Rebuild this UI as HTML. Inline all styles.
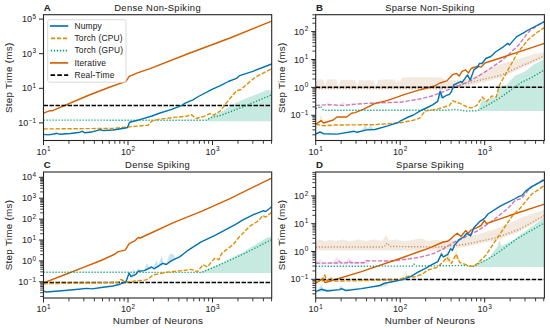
<!DOCTYPE html>
<html><head><meta charset="utf-8"><style>
html,body{margin:0;padding:0;background:#fff;width:550px;height:328px;overflow:hidden}
svg{display:block}
text{font-family:"Liberation Sans", sans-serif;fill:#262626;stroke:#262626;stroke-width:0.05px}
.tk{font-size:9px}
.sup{font-size:6.4px}
.ti{font-size:9.4px;letter-spacing:0.35px}
.lb{font-size:9.8px;letter-spacing:0.3px}
.lg{font-size:8.4px;letter-spacing:0.22px}
.pl{font-size:9.6px;font-weight:bold;stroke-width:0.1px}
</style></head><body>
<svg width="550" height="328" viewBox="0 0 550 328">
<rect width="550" height="328" fill="#fff"/>
<defs>
<clipPath id="clipA"><rect x="43.5" y="14.7" width="228.20" height="125.80"/></clipPath>
<clipPath id="clipB"><rect x="315.7" y="14.7" width="228.70" height="125.80"/></clipPath>
<clipPath id="clipC"><rect x="43.5" y="172.0" width="228.20" height="126.00"/></clipPath>
<clipPath id="clipD"><rect x="315.7" y="172.0" width="228.70" height="126.00"/></clipPath>
</defs>
<g clip-path="url(#clipA)">
<polygon points="205.9,120.4 212.0,116.0 220.4,112.5 233.4,104.0 246.3,98.3 259.2,93.3 267.0,89.7 271.7,90.5 271.7,121.3 205.9,121.3" fill="#029e73" fill-opacity="0.22" stroke="none"/>
<polyline points="43.5,113.2 50.0,110.6 52.0,110.8 89.3,95.0 110.0,87.0 124.6,81.8 126.5,80.6 129.2,76.3 137.5,72.8 150.0,68.7 188.6,53.5 230.0,38.0 271.7,21.2" fill="none" stroke="#d55e00" stroke-width="1.4"  stroke-linejoin="round"/>
<polyline points="43.5,105.6 271.7,105.6" fill="none" stroke="#000000" stroke-width="1.5" stroke-dasharray="4.5 1.5" stroke-linejoin="round"/>
<polyline points="43.5,120.1 205.5,120.3 212.0,117.2 220.0,115.7 242.6,107.0 271.7,94.8" fill="none" stroke="#029e73" stroke-width="1.4" stroke-dasharray="1.2 1.8" stroke-linejoin="round"/>
<polyline points="43.5,128.9 93.0,128.6 113.0,128.4 125.0,127.2 147.9,125.2 149.5,123.5 152.0,121.0 160.0,119.0 174.3,117.4 186.3,116.3 191.3,114.6 196.2,118.5 203.9,116.3 210.4,113.5 213.7,115.2 220.2,111.1 226.3,102.9 236.5,90.7 240.6,89.7 254.9,77.4 271.7,68.6" fill="none" stroke="#de8f05" stroke-width="1.4" stroke-dasharray="4.3 1.7" stroke-linejoin="round"/>
<polyline points="43.5,134.4 48.5,134.9 54.0,134.0 56.7,133.3 59.5,134.2 70.4,133.5 80.0,132.2 82.3,131.3 85.0,132.8 93.0,131.7 100.5,129.6 103.0,130.6 113.0,130.0 125.4,128.0 127.5,127.5 129.6,122.3 138.0,120.2 152.0,116.0 160.0,113.0 171.0,109.7 181.9,105.3 185.2,103.1 192.9,99.8 198.4,96.5 212.0,89.3 220.4,85.6 228.3,81.5 236.5,78.4 239.6,75.6 252.8,71.3 271.7,64.0" fill="none" stroke="#0173b2" stroke-width="1.4"  stroke-linejoin="round"/>
</g>
<g clip-path="url(#clipB)">
<polygon points="315.7,84.0 317.5,79.5 323.0,79.5 325.0,86.0 327.0,79.5 336.5,79.3 338.5,86.5 340.5,79.8 355.0,79.8 357.0,86.5 359.0,80.2 373.6,80.4 375.7,86.5 378.0,79.8 390.0,79.5 395.0,79.5 396.5,84.0 398.0,79.5 400.0,83.0 401.0,79.0 402.8,77.5 420.0,77.0 441.0,77.5 446.0,80.7 466.0,79.0 480.3,74.0 494.8,66.0 514.7,59.9 534.5,54.0 544.4,52.0 544.4,58.0 521.8,68.0 502.0,77.5 480.3,83.0 466.6,86.5 445.0,89.0 315.7,89.0" fill="#ca9161" fill-opacity="0.2" stroke="none"/>
<polygon points="478.0,110.5 482.1,99.0 486.4,102.0 491.9,97.0 496.3,98.0 498.4,90.0 500.8,85.7 506.7,85.0 514.7,75.8 524.6,71.8 534.5,63.9 542.5,60.0 544.4,59.0 544.4,111.0 478.0,111.0" fill="#029e73" fill-opacity="0.22" stroke="none"/>
<polygon points="362.0,129.5 365.0,125.5 368.0,128.5 370.0,125.5 373.0,128.0 373.0,130.0 362.0,131.0" fill="#0173b2" fill-opacity="0.2" stroke="none"/>
<polygon points="438.0,100.0 440.5,85.0 443.0,97.0" fill="#0173b2" fill-opacity="0.2" stroke="none"/>
<polygon points="325.0,104.5 328.0,102.0 331.0,104.5 340.0,104.5 343.0,101.5 346.0,104.5 375.0,103.0 378.0,101.0 381.0,103.0" fill="#cc78bc" fill-opacity="0.2" stroke="none"/>
<polygon points="319.0,122.0 321.1,114.0 323.5,122.5" fill="#de8f05" fill-opacity="0.2" stroke="none"/>
<polyline points="315.7,88.5 445.0,88.5 466.6,83.6 480.3,80.0 502.0,74.9 521.8,65.8 541.9,57.0 544.4,56.0" fill="none" stroke="#ca9161" stroke-width="1.4" stroke-dasharray="1.2 1.8" stroke-linejoin="round"/>
<polyline points="315.7,105.4 329.0,104.7 343.0,105.4 357.0,104.0 375.0,102.9 400.6,102.2 419.8,99.0 432.6,95.8 439.0,93.3 453.7,87.8 462.0,84.5 471.1,80.4 480.3,74.9 489.4,69.0 502.0,60.3 506.4,56.6 518.7,45.0 526.1,35.1 530.5,30.0 544.4,21.5" fill="none" stroke="#cc78bc" stroke-width="1.4" stroke-dasharray="4.3 1.7" stroke-linejoin="round"/>
<polyline points="315.7,124.3 321.1,120.6 323.5,123.0 333.3,120.0 337.0,117.0 346.7,117.0 351.6,113.3 355.0,112.6 363.2,109.4 374.6,103.6 387.7,100.4 404.1,94.6 420.5,89.7 433.6,86.3 440.0,83.0 446.9,80.9 452.4,74.7 456.5,73.4 459.2,76.1 462.0,71.3 465.7,69.9 468.4,73.1 471.1,68.5 477.6,66.2 481.2,67.1 484.9,63.0 502.0,57.5 544.4,43.4" fill="none" stroke="#d55e00" stroke-width="1.4"  stroke-linejoin="round"/>
<polyline points="315.7,87.2 544.4,87.2" fill="none" stroke="#000000" stroke-width="1.5" stroke-dasharray="4.5 1.5" stroke-linejoin="round"/>
<polyline points="315.7,108.4 318.0,108.0 320.5,106.2 323.0,109.6 326.0,110.2 445.0,110.3 455.9,109.5 466.8,111.0 477.7,110.6 488.6,104.6 499.5,98.1 505.0,94.3 521.8,82.1 531.2,77.8 541.9,71.3 544.4,70.0" fill="none" stroke="#029e73" stroke-width="1.4" stroke-dasharray="1.2 1.8" stroke-linejoin="round"/>
<polyline points="315.7,124.3 323.4,125.7 336.0,125.0 375.0,124.7 400.6,122.7 413.4,120.2 419.8,118.2 424.9,111.2 432.6,109.9 439.0,108.6 445.0,106.8 449.4,105.7 452.6,100.8 459.2,103.0 467.9,107.4 471.2,107.9 476.6,105.7 482.1,97.0 486.4,101.4 491.9,95.9 496.3,97.0 498.4,88.3 499.5,85.0 506.4,72.8 517.2,53.5 521.0,48.5 528.2,39.6 535.9,33.2 544.4,27.5" fill="none" stroke="#de8f05" stroke-width="1.4" stroke-dasharray="4.3 1.7" stroke-linejoin="round"/>
<polyline points="315.7,134.1 319.9,132.0 323.4,133.7 337.4,134.1 354.2,131.3 357.0,132.3 366.8,129.9 375.0,129.5 387.8,125.9 398.0,122.7 400.6,120.8 408.3,117.0 413.4,115.0 419.8,111.2 426.2,108.0 432.6,104.8 437.7,101.4 440.1,91.5 442.4,97.8 446.0,95.6 449.4,94.3 451.5,91.5 453.7,85.0 460.6,81.6 462.0,82.7 467.5,74.9 470.2,80.0 473.9,69.9 477.6,67.1 479.4,63.5 482.1,63.5 485.8,58.5 490.8,56.5 495.5,52.0 503.3,46.8 507.7,43.4 509.5,44.9 516.7,36.6 523.1,33.2 528.2,30.0 544.4,21.6" fill="none" stroke="#0173b2" stroke-width="1.4"  stroke-linejoin="round"/>
</g>
<g clip-path="url(#clipC)">
<polygon points="198.7,272.4 221.7,263.0 243.3,252.0 250.5,247.4 267.7,237.3 271.7,236.6 271.7,272.9 198.7,272.9" fill="#029e73" fill-opacity="0.22" stroke="none"/>
<polygon points="129.1,274.0 131.5,275.0 133.4,268.8 135.5,274.0 136.5,273.5 138.3,267.6 140.5,271.0 144.0,270.8 146.8,262.7 150.0,268.0 153.0,267.5 156.6,260.2 158.5,265.5 161.5,256.0 164.0,263.5 167.0,262.5 169.0,255.0 171.2,253.5 174.0,255.0 176.0,258.5 171.2,261.2 166.3,265.0 162.7,263.8 154.1,269.3 151.7,267.5 144.4,271.1 138.3,271.7 135.9,274.8 131.0,277.2" fill="#0173b2" fill-opacity="0.2" stroke="none"/>
<polyline points="43.5,282.9 64.0,275.0 82.2,267.9 101.0,260.5 115.1,254.0 118.1,251.6 125.2,250.1 129.2,243.6 135.2,240.6 138.2,237.5 140.2,238.0 150.0,233.5 174.0,222.4 202.0,211.2 230.0,198.6 271.7,178.1" fill="none" stroke="#d55e00" stroke-width="1.4"  stroke-linejoin="round"/>
<polyline points="43.5,282.5 271.7,282.5" fill="none" stroke="#000000" stroke-width="1.5" stroke-dasharray="4.5 1.5" stroke-linejoin="round"/>
<polyline points="43.5,272.2 198.0,272.4 201.6,272.4 221.7,264.0 243.3,254.0 270.6,240.2 271.7,239.6" fill="none" stroke="#029e73" stroke-width="1.4" stroke-dasharray="1.2 1.8" stroke-linejoin="round"/>
<polyline points="43.5,283.7 118.0,282.5 120.8,279.5 126.4,282.0 146.0,279.9 148.8,278.5 153.0,275.0 167.0,272.2 181.0,270.8 190.8,269.4 195.0,270.5 197.3,272.0 203.0,264.8 207.4,266.9 214.6,258.3 218.9,259.7 221.5,253.5 233.2,244.5 237.0,239.5 249.3,226.6 259.0,220.4 262.4,215.6 265.8,217.0 271.7,212.2" fill="none" stroke="#de8f05" stroke-width="1.4" stroke-dasharray="4.3 1.7" stroke-linejoin="round"/>
<polyline points="43.5,291.1 46.3,292.0 64.8,290.5 75.7,289.5 86.6,288.4 92.1,288.9 103.0,287.2 113.0,286.0 120.0,284.2 126.1,281.6 129.1,273.0 131.0,276.7 135.9,274.3 138.3,271.2 144.4,270.6 151.7,267.0 154.1,268.8 162.7,263.3 166.3,264.5 171.2,260.9 180.0,256.6 187.5,250.7 201.2,241.8 215.0,235.3 235.6,224.3 242.5,220.1 253.5,214.6 263.1,210.8 265.8,211.5 271.7,206.7" fill="none" stroke="#0173b2" stroke-width="1.4"  stroke-linejoin="round"/>
</g>
<g clip-path="url(#clipD)">
<polygon points="315.7,241.0 320.0,239.5 325.0,241.5 330.0,239.5 336.0,241.0 342.0,239.5 350.0,241.5 358.0,239.5 366.0,241.0 374.0,239.5 382.0,241.0 386.4,235.0 389.0,240.5 396.0,239.5 404.0,241.5 412.0,240.0 419.0,238.5 422.0,238.5 428.0,241.0 436.0,240.0 445.0,241.0 453.0,240.5 465.0,238.0 497.5,228.6 525.0,216.2 544.4,209.5 544.4,218.0 520.0,231.5 497.0,240.0 465.0,247.0 440.0,250.5 315.7,250.5" fill="#ca9161" fill-opacity="0.2" stroke="none"/>
<polygon points="473.7,266.2 480.0,263.0 489.7,257.0 497.5,246.4 499.5,240.0 501.5,246.0 514.0,239.6 525.0,231.3 544.4,217.6 544.4,267.0 473.7,267.0" fill="#029e73" fill-opacity="0.22" stroke="none"/>
<polygon points="318.0,290.0 321.0,284.8 324.0,289.0 338.0,289.5 341.0,285.5 344.0,289.5 380.0,286.0 383.0,282.0 387.0,284.0 387.0,286.0 318.0,292.0" fill="#0173b2" fill-opacity="0.2" stroke="none"/>
<polygon points="315.7,262.0 320.0,259.5 323.0,262.0 333.0,261.5 336.6,257.0 340.0,261.5 345.0,261.5 349.0,257.5 353.0,261.5 363.0,261.5 366.0,258.5 369.0,261.0 369.0,264.5 315.7,264.5" fill="#cc78bc" fill-opacity="0.2" stroke="none"/>
<polygon points="321.0,281.0 324.3,273.2 327.0,281.0" fill="#de8f05" fill-opacity="0.2" stroke="none"/>
<polygon points="330.0,280.5 332.0,275.5 334.0,281.0" fill="#de8f05" fill-opacity="0.2" stroke="none"/>
<polygon points="403.0,279.0 405.4,270.0 408.0,278.0" fill="#de8f05" fill-opacity="0.2" stroke="none"/>
<polygon points="443.0,262.0 447.0,250.0 452.0,262.0" fill="#de8f05" fill-opacity="0.2" stroke="none"/>
<polygon points="454.0,258.0 456.0,248.0 460.0,262.0" fill="#de8f05" fill-opacity="0.2" stroke="none"/>
<polyline points="315.7,247.0 384.0,247.0 387.0,243.0 390.0,246.5 440.0,247.0 465.0,244.5 497.0,237.5 520.0,229.0 544.4,215.5" fill="none" stroke="#ca9161" stroke-width="1.4" stroke-dasharray="1.2 1.8" stroke-linejoin="round"/>
<polyline points="315.7,263.2 337.0,263.0 339.0,261.0 341.0,263.0 347.0,262.8 349.0,261.0 351.0,262.8 364.0,262.8 366.8,260.8 392.0,261.0 404.0,259.5 418.0,257.5 425.0,256.0 434.1,253.4 443.3,248.8 453.7,242.4 463.7,237.9 470.1,234.2 477.4,231.0 492.6,220.7 507.8,208.5 515.4,200.2 521.5,198.6 530.7,187.2 544.4,179.0" fill="none" stroke="#cc78bc" stroke-width="1.4" stroke-dasharray="4.3 1.7" stroke-linejoin="round"/>
<polyline points="315.7,283.2 322.7,278.6 325.0,282.5 330.5,281.0 361.4,271.6 400.0,258.5 418.0,252.0 425.0,249.7 432.0,246.9 443.2,242.0 447.4,241.3 450.0,239.7 453.7,236.0 457.3,233.3 461.0,236.5 465.6,230.6 468.3,233.3 471.0,230.1 476.5,227.8 481.1,225.5 484.3,220.5 486.6,223.7 490.0,222.3 511.2,215.0 544.4,204.2" fill="none" stroke="#d55e00" stroke-width="1.4"  stroke-linejoin="round"/>
<polyline points="315.7,279.4 544.4,279.4" fill="none" stroke="#000000" stroke-width="1.5" stroke-dasharray="4.5 1.5" stroke-linejoin="round"/>
<polyline points="315.7,266.3 412.0,266.1 413.8,264.0 415.5,266.1 465.0,265.5 473.7,266.2 479.5,263.3 486.8,259.6 495.5,254.5 505.0,247.5 515.9,239.5 542.1,224.2 544.4,223.0" fill="none" stroke="#029e73" stroke-width="1.4" stroke-dasharray="1.2 1.8" stroke-linejoin="round"/>
<polyline points="315.7,281.2 322.0,281.2 324.8,275.0 327.0,281.2 331.0,278.0 333.0,281.2 390.0,280.0 398.4,280.5 404.0,277.7 408.2,276.3 413.8,277.0 422.2,274.2 427.8,270.0 437.6,267.2 443.2,261.6 446.9,257.5 451.5,263.4 456.1,254.3 459.7,262.5 465.2,264.3 469.4,266.2 473.7,266.2 478.2,262.9 486.0,255.0 498.0,237.0 506.0,225.0 513.0,215.0 520.3,208.0 531.9,194.0 544.4,185.5" fill="none" stroke="#de8f05" stroke-width="1.4" stroke-dasharray="4.3 1.7" stroke-linejoin="round"/>
<polyline points="315.7,291.7 321.2,289.3 327.4,291.0 339.7,289.6 341.3,288.6 345.9,290.5 361.4,288.6 380.0,285.5 384.6,283.2 392.3,281.7 400.0,280.1 404.0,279.1 411.0,276.3 418.0,272.1 425.0,268.6 430.5,265.3 437.8,261.6 441.5,253.8 443.3,257.0 447.9,254.3 450.6,248.8 452.4,250.6 454.6,245.0 459.1,239.7 463.7,237.0 466.5,233.3 470.6,236.0 473.8,227.8 479.3,221.9 484.8,218.2 488.0,214.0 500.2,206.2 515.4,198.5 519.2,196.4 521.8,195.6 525.6,191.1 532.0,186.6 544.4,179.8" fill="none" stroke="#0173b2" stroke-width="1.4"  stroke-linejoin="round"/>
</g>
<line x1="43.50" y1="140.50" x2="43.50" y2="145.00" stroke="#262626" stroke-width="1.0"/>
<line x1="68.94" y1="140.50" x2="68.94" y2="143.80" stroke="#262626" stroke-width="0.9"/>
<line x1="83.82" y1="140.50" x2="83.82" y2="143.80" stroke="#262626" stroke-width="0.9"/>
<line x1="94.37" y1="140.50" x2="94.37" y2="143.80" stroke="#262626" stroke-width="0.9"/>
<line x1="102.56" y1="140.50" x2="102.56" y2="143.80" stroke="#262626" stroke-width="0.9"/>
<line x1="109.25" y1="140.50" x2="109.25" y2="143.80" stroke="#262626" stroke-width="0.9"/>
<line x1="114.91" y1="140.50" x2="114.91" y2="143.80" stroke="#262626" stroke-width="0.9"/>
<line x1="119.81" y1="140.50" x2="119.81" y2="143.80" stroke="#262626" stroke-width="0.9"/>
<line x1="124.13" y1="140.50" x2="124.13" y2="143.80" stroke="#262626" stroke-width="0.9"/>
<line x1="128.00" y1="140.50" x2="128.00" y2="145.00" stroke="#262626" stroke-width="1.0"/>
<line x1="153.44" y1="140.50" x2="153.44" y2="143.80" stroke="#262626" stroke-width="0.9"/>
<line x1="168.32" y1="140.50" x2="168.32" y2="143.80" stroke="#262626" stroke-width="0.9"/>
<line x1="178.87" y1="140.50" x2="178.87" y2="143.80" stroke="#262626" stroke-width="0.9"/>
<line x1="187.06" y1="140.50" x2="187.06" y2="143.80" stroke="#262626" stroke-width="0.9"/>
<line x1="193.75" y1="140.50" x2="193.75" y2="143.80" stroke="#262626" stroke-width="0.9"/>
<line x1="199.41" y1="140.50" x2="199.41" y2="143.80" stroke="#262626" stroke-width="0.9"/>
<line x1="204.31" y1="140.50" x2="204.31" y2="143.80" stroke="#262626" stroke-width="0.9"/>
<line x1="208.63" y1="140.50" x2="208.63" y2="143.80" stroke="#262626" stroke-width="0.9"/>
<line x1="212.50" y1="140.50" x2="212.50" y2="145.00" stroke="#262626" stroke-width="1.0"/>
<line x1="237.94" y1="140.50" x2="237.94" y2="143.80" stroke="#262626" stroke-width="0.9"/>
<line x1="252.82" y1="140.50" x2="252.82" y2="143.80" stroke="#262626" stroke-width="0.9"/>
<line x1="263.37" y1="140.50" x2="263.37" y2="143.80" stroke="#262626" stroke-width="0.9"/>
<line x1="271.56" y1="140.50" x2="271.56" y2="143.80" stroke="#262626" stroke-width="0.9"/>
<text x="43.50" y="154.50" text-anchor="middle" class="tk">10<tspan class="sup" dx="0.6" dy="-3.4">1</tspan></text>
<text x="128.00" y="154.50" text-anchor="middle" class="tk">10<tspan class="sup" dx="0.6" dy="-3.4">2</tspan></text>
<text x="212.50" y="154.50" text-anchor="middle" class="tk">10<tspan class="sup" dx="0.6" dy="-3.4">3</tspan></text>
<line x1="39.00" y1="122.90" x2="43.50" y2="122.90" stroke="#262626" stroke-width="1.0"/>
<text x="36.10" y="126.00" text-anchor="end" class="tk">10<tspan class="sup" dx="0.6" dy="-3.4">−1</tspan></text>
<line x1="39.00" y1="88.30" x2="43.50" y2="88.30" stroke="#262626" stroke-width="1.0"/>
<text x="36.10" y="91.40" text-anchor="end" class="tk">10<tspan class="sup" dx="0.6" dy="-3.4">1</tspan></text>
<line x1="39.00" y1="53.70" x2="43.50" y2="53.70" stroke="#262626" stroke-width="1.0"/>
<text x="36.10" y="56.80" text-anchor="end" class="tk">10<tspan class="sup" dx="0.6" dy="-3.4">3</tspan></text>
<line x1="39.00" y1="19.10" x2="43.50" y2="19.10" stroke="#262626" stroke-width="1.0"/>
<text x="36.10" y="22.20" text-anchor="end" class="tk">10<tspan class="sup" dx="0.6" dy="-3.4">5</tspan></text>
<rect x="43.50" y="14.70" width="228.20" height="125.80" fill="none" stroke="#262626" stroke-width="1.1"/>
<text x="157.60" y="10.50" text-anchor="middle" class="ti">Dense Non-Spiking</text>
<text x="43.80" y="10.70" class="pl">A</text>
<line x1="315.70" y1="140.50" x2="315.70" y2="145.00" stroke="#262626" stroke-width="1.0"/>
<line x1="341.14" y1="140.50" x2="341.14" y2="143.80" stroke="#262626" stroke-width="0.9"/>
<line x1="356.02" y1="140.50" x2="356.02" y2="143.80" stroke="#262626" stroke-width="0.9"/>
<line x1="366.57" y1="140.50" x2="366.57" y2="143.80" stroke="#262626" stroke-width="0.9"/>
<line x1="374.76" y1="140.50" x2="374.76" y2="143.80" stroke="#262626" stroke-width="0.9"/>
<line x1="381.45" y1="140.50" x2="381.45" y2="143.80" stroke="#262626" stroke-width="0.9"/>
<line x1="387.11" y1="140.50" x2="387.11" y2="143.80" stroke="#262626" stroke-width="0.9"/>
<line x1="392.01" y1="140.50" x2="392.01" y2="143.80" stroke="#262626" stroke-width="0.9"/>
<line x1="396.33" y1="140.50" x2="396.33" y2="143.80" stroke="#262626" stroke-width="0.9"/>
<line x1="400.20" y1="140.50" x2="400.20" y2="145.00" stroke="#262626" stroke-width="1.0"/>
<line x1="425.64" y1="140.50" x2="425.64" y2="143.80" stroke="#262626" stroke-width="0.9"/>
<line x1="440.52" y1="140.50" x2="440.52" y2="143.80" stroke="#262626" stroke-width="0.9"/>
<line x1="451.07" y1="140.50" x2="451.07" y2="143.80" stroke="#262626" stroke-width="0.9"/>
<line x1="459.26" y1="140.50" x2="459.26" y2="143.80" stroke="#262626" stroke-width="0.9"/>
<line x1="465.95" y1="140.50" x2="465.95" y2="143.80" stroke="#262626" stroke-width="0.9"/>
<line x1="471.61" y1="140.50" x2="471.61" y2="143.80" stroke="#262626" stroke-width="0.9"/>
<line x1="476.51" y1="140.50" x2="476.51" y2="143.80" stroke="#262626" stroke-width="0.9"/>
<line x1="480.83" y1="140.50" x2="480.83" y2="143.80" stroke="#262626" stroke-width="0.9"/>
<line x1="484.70" y1="140.50" x2="484.70" y2="145.00" stroke="#262626" stroke-width="1.0"/>
<line x1="510.14" y1="140.50" x2="510.14" y2="143.80" stroke="#262626" stroke-width="0.9"/>
<line x1="525.02" y1="140.50" x2="525.02" y2="143.80" stroke="#262626" stroke-width="0.9"/>
<line x1="535.57" y1="140.50" x2="535.57" y2="143.80" stroke="#262626" stroke-width="0.9"/>
<line x1="543.76" y1="140.50" x2="543.76" y2="143.80" stroke="#262626" stroke-width="0.9"/>
<text x="315.70" y="154.50" text-anchor="middle" class="tk">10<tspan class="sup" dx="0.6" dy="-3.4">1</tspan></text>
<text x="400.20" y="154.50" text-anchor="middle" class="tk">10<tspan class="sup" dx="0.6" dy="-3.4">2</tspan></text>
<text x="484.70" y="154.50" text-anchor="middle" class="tk">10<tspan class="sup" dx="0.6" dy="-3.4">3</tspan></text>
<line x1="312.40" y1="134.80" x2="315.70" y2="134.80" stroke="#262626" stroke-width="0.9"/>
<line x1="312.40" y1="129.89" x2="315.70" y2="129.89" stroke="#262626" stroke-width="0.9"/>
<line x1="312.40" y1="126.40" x2="315.70" y2="126.40" stroke="#262626" stroke-width="0.9"/>
<line x1="312.40" y1="123.70" x2="315.70" y2="123.70" stroke="#262626" stroke-width="0.9"/>
<line x1="312.40" y1="121.49" x2="315.70" y2="121.49" stroke="#262626" stroke-width="0.9"/>
<line x1="312.40" y1="119.62" x2="315.70" y2="119.62" stroke="#262626" stroke-width="0.9"/>
<line x1="312.40" y1="118.00" x2="315.70" y2="118.00" stroke="#262626" stroke-width="0.9"/>
<line x1="312.40" y1="116.58" x2="315.70" y2="116.58" stroke="#262626" stroke-width="0.9"/>
<line x1="311.20" y1="115.30" x2="315.70" y2="115.30" stroke="#262626" stroke-width="1.0"/>
<text x="308.30" y="118.40" text-anchor="end" class="tk">10<tspan class="sup" dx="0.6" dy="-3.4">−1</tspan></text>
<line x1="312.40" y1="106.90" x2="315.70" y2="106.90" stroke="#262626" stroke-width="0.9"/>
<line x1="312.40" y1="101.99" x2="315.70" y2="101.99" stroke="#262626" stroke-width="0.9"/>
<line x1="312.40" y1="98.50" x2="315.70" y2="98.50" stroke="#262626" stroke-width="0.9"/>
<line x1="312.40" y1="95.80" x2="315.70" y2="95.80" stroke="#262626" stroke-width="0.9"/>
<line x1="312.40" y1="93.59" x2="315.70" y2="93.59" stroke="#262626" stroke-width="0.9"/>
<line x1="312.40" y1="91.72" x2="315.70" y2="91.72" stroke="#262626" stroke-width="0.9"/>
<line x1="312.40" y1="90.10" x2="315.70" y2="90.10" stroke="#262626" stroke-width="0.9"/>
<line x1="312.40" y1="88.68" x2="315.70" y2="88.68" stroke="#262626" stroke-width="0.9"/>
<line x1="311.20" y1="87.40" x2="315.70" y2="87.40" stroke="#262626" stroke-width="1.0"/>
<text x="308.30" y="90.50" text-anchor="end" class="tk">10<tspan class="sup" dx="0.6" dy="-3.4">0</tspan></text>
<line x1="312.40" y1="79.00" x2="315.70" y2="79.00" stroke="#262626" stroke-width="0.9"/>
<line x1="312.40" y1="74.09" x2="315.70" y2="74.09" stroke="#262626" stroke-width="0.9"/>
<line x1="312.40" y1="70.60" x2="315.70" y2="70.60" stroke="#262626" stroke-width="0.9"/>
<line x1="312.40" y1="67.90" x2="315.70" y2="67.90" stroke="#262626" stroke-width="0.9"/>
<line x1="312.40" y1="65.69" x2="315.70" y2="65.69" stroke="#262626" stroke-width="0.9"/>
<line x1="312.40" y1="63.82" x2="315.70" y2="63.82" stroke="#262626" stroke-width="0.9"/>
<line x1="312.40" y1="62.20" x2="315.70" y2="62.20" stroke="#262626" stroke-width="0.9"/>
<line x1="312.40" y1="60.78" x2="315.70" y2="60.78" stroke="#262626" stroke-width="0.9"/>
<line x1="311.20" y1="59.50" x2="315.70" y2="59.50" stroke="#262626" stroke-width="1.0"/>
<text x="308.30" y="62.60" text-anchor="end" class="tk">10<tspan class="sup" dx="0.6" dy="-3.4">1</tspan></text>
<line x1="312.40" y1="51.10" x2="315.70" y2="51.10" stroke="#262626" stroke-width="0.9"/>
<line x1="312.40" y1="46.19" x2="315.70" y2="46.19" stroke="#262626" stroke-width="0.9"/>
<line x1="312.40" y1="42.70" x2="315.70" y2="42.70" stroke="#262626" stroke-width="0.9"/>
<line x1="312.40" y1="40.00" x2="315.70" y2="40.00" stroke="#262626" stroke-width="0.9"/>
<line x1="312.40" y1="37.79" x2="315.70" y2="37.79" stroke="#262626" stroke-width="0.9"/>
<line x1="312.40" y1="35.92" x2="315.70" y2="35.92" stroke="#262626" stroke-width="0.9"/>
<line x1="312.40" y1="34.30" x2="315.70" y2="34.30" stroke="#262626" stroke-width="0.9"/>
<line x1="312.40" y1="32.88" x2="315.70" y2="32.88" stroke="#262626" stroke-width="0.9"/>
<line x1="311.20" y1="31.60" x2="315.70" y2="31.60" stroke="#262626" stroke-width="1.0"/>
<text x="308.30" y="34.70" text-anchor="end" class="tk">10<tspan class="sup" dx="0.6" dy="-3.4">2</tspan></text>
<line x1="312.40" y1="23.20" x2="315.70" y2="23.20" stroke="#262626" stroke-width="0.9"/>
<line x1="312.40" y1="18.29" x2="315.70" y2="18.29" stroke="#262626" stroke-width="0.9"/>
<line x1="312.40" y1="14.80" x2="315.70" y2="14.80" stroke="#262626" stroke-width="0.9"/>
<rect x="315.70" y="14.70" width="228.70" height="125.80" fill="none" stroke="#262626" stroke-width="1.1"/>
<text x="430.05" y="10.50" text-anchor="middle" class="ti">Sparse Non-Spiking</text>
<text x="316.00" y="10.70" class="pl">B</text>
<line x1="43.50" y1="298.00" x2="43.50" y2="302.50" stroke="#262626" stroke-width="1.0"/>
<line x1="68.94" y1="298.00" x2="68.94" y2="301.30" stroke="#262626" stroke-width="0.9"/>
<line x1="83.82" y1="298.00" x2="83.82" y2="301.30" stroke="#262626" stroke-width="0.9"/>
<line x1="94.37" y1="298.00" x2="94.37" y2="301.30" stroke="#262626" stroke-width="0.9"/>
<line x1="102.56" y1="298.00" x2="102.56" y2="301.30" stroke="#262626" stroke-width="0.9"/>
<line x1="109.25" y1="298.00" x2="109.25" y2="301.30" stroke="#262626" stroke-width="0.9"/>
<line x1="114.91" y1="298.00" x2="114.91" y2="301.30" stroke="#262626" stroke-width="0.9"/>
<line x1="119.81" y1="298.00" x2="119.81" y2="301.30" stroke="#262626" stroke-width="0.9"/>
<line x1="124.13" y1="298.00" x2="124.13" y2="301.30" stroke="#262626" stroke-width="0.9"/>
<line x1="128.00" y1="298.00" x2="128.00" y2="302.50" stroke="#262626" stroke-width="1.0"/>
<line x1="153.44" y1="298.00" x2="153.44" y2="301.30" stroke="#262626" stroke-width="0.9"/>
<line x1="168.32" y1="298.00" x2="168.32" y2="301.30" stroke="#262626" stroke-width="0.9"/>
<line x1="178.87" y1="298.00" x2="178.87" y2="301.30" stroke="#262626" stroke-width="0.9"/>
<line x1="187.06" y1="298.00" x2="187.06" y2="301.30" stroke="#262626" stroke-width="0.9"/>
<line x1="193.75" y1="298.00" x2="193.75" y2="301.30" stroke="#262626" stroke-width="0.9"/>
<line x1="199.41" y1="298.00" x2="199.41" y2="301.30" stroke="#262626" stroke-width="0.9"/>
<line x1="204.31" y1="298.00" x2="204.31" y2="301.30" stroke="#262626" stroke-width="0.9"/>
<line x1="208.63" y1="298.00" x2="208.63" y2="301.30" stroke="#262626" stroke-width="0.9"/>
<line x1="212.50" y1="298.00" x2="212.50" y2="302.50" stroke="#262626" stroke-width="1.0"/>
<line x1="237.94" y1="298.00" x2="237.94" y2="301.30" stroke="#262626" stroke-width="0.9"/>
<line x1="252.82" y1="298.00" x2="252.82" y2="301.30" stroke="#262626" stroke-width="0.9"/>
<line x1="263.37" y1="298.00" x2="263.37" y2="301.30" stroke="#262626" stroke-width="0.9"/>
<line x1="271.56" y1="298.00" x2="271.56" y2="301.30" stroke="#262626" stroke-width="0.9"/>
<text x="43.50" y="312.00" text-anchor="middle" class="tk">10<tspan class="sup" dx="0.6" dy="-3.4">1</tspan></text>
<text x="128.00" y="312.00" text-anchor="middle" class="tk">10<tspan class="sup" dx="0.6" dy="-3.4">2</tspan></text>
<text x="212.50" y="312.00" text-anchor="middle" class="tk">10<tspan class="sup" dx="0.6" dy="-3.4">3</tspan></text>
<line x1="40.20" y1="296.41" x2="43.50" y2="296.41" stroke="#262626" stroke-width="0.9"/>
<line x1="40.20" y1="292.73" x2="43.50" y2="292.73" stroke="#262626" stroke-width="0.9"/>
<line x1="40.20" y1="290.12" x2="43.50" y2="290.12" stroke="#262626" stroke-width="0.9"/>
<line x1="40.20" y1="288.09" x2="43.50" y2="288.09" stroke="#262626" stroke-width="0.9"/>
<line x1="40.20" y1="286.44" x2="43.50" y2="286.44" stroke="#262626" stroke-width="0.9"/>
<line x1="40.20" y1="285.04" x2="43.50" y2="285.04" stroke="#262626" stroke-width="0.9"/>
<line x1="40.20" y1="283.83" x2="43.50" y2="283.83" stroke="#262626" stroke-width="0.9"/>
<line x1="40.20" y1="282.76" x2="43.50" y2="282.76" stroke="#262626" stroke-width="0.9"/>
<line x1="39.00" y1="281.80" x2="43.50" y2="281.80" stroke="#262626" stroke-width="1.0"/>
<text x="36.10" y="284.90" text-anchor="end" class="tk">10<tspan class="sup" dx="0.6" dy="-3.4">−1</tspan></text>
<line x1="40.20" y1="275.51" x2="43.50" y2="275.51" stroke="#262626" stroke-width="0.9"/>
<line x1="40.20" y1="271.83" x2="43.50" y2="271.83" stroke="#262626" stroke-width="0.9"/>
<line x1="40.20" y1="269.22" x2="43.50" y2="269.22" stroke="#262626" stroke-width="0.9"/>
<line x1="40.20" y1="267.19" x2="43.50" y2="267.19" stroke="#262626" stroke-width="0.9"/>
<line x1="40.20" y1="265.54" x2="43.50" y2="265.54" stroke="#262626" stroke-width="0.9"/>
<line x1="40.20" y1="264.14" x2="43.50" y2="264.14" stroke="#262626" stroke-width="0.9"/>
<line x1="40.20" y1="262.93" x2="43.50" y2="262.93" stroke="#262626" stroke-width="0.9"/>
<line x1="40.20" y1="261.86" x2="43.50" y2="261.86" stroke="#262626" stroke-width="0.9"/>
<line x1="39.00" y1="260.90" x2="43.50" y2="260.90" stroke="#262626" stroke-width="1.0"/>
<text x="36.10" y="264.00" text-anchor="end" class="tk">10<tspan class="sup" dx="0.6" dy="-3.4">0</tspan></text>
<line x1="40.20" y1="254.61" x2="43.50" y2="254.61" stroke="#262626" stroke-width="0.9"/>
<line x1="40.20" y1="250.93" x2="43.50" y2="250.93" stroke="#262626" stroke-width="0.9"/>
<line x1="40.20" y1="248.32" x2="43.50" y2="248.32" stroke="#262626" stroke-width="0.9"/>
<line x1="40.20" y1="246.29" x2="43.50" y2="246.29" stroke="#262626" stroke-width="0.9"/>
<line x1="40.20" y1="244.64" x2="43.50" y2="244.64" stroke="#262626" stroke-width="0.9"/>
<line x1="40.20" y1="243.24" x2="43.50" y2="243.24" stroke="#262626" stroke-width="0.9"/>
<line x1="40.20" y1="242.03" x2="43.50" y2="242.03" stroke="#262626" stroke-width="0.9"/>
<line x1="40.20" y1="240.96" x2="43.50" y2="240.96" stroke="#262626" stroke-width="0.9"/>
<line x1="39.00" y1="240.00" x2="43.50" y2="240.00" stroke="#262626" stroke-width="1.0"/>
<text x="36.10" y="243.10" text-anchor="end" class="tk">10<tspan class="sup" dx="0.6" dy="-3.4">1</tspan></text>
<line x1="40.20" y1="233.71" x2="43.50" y2="233.71" stroke="#262626" stroke-width="0.9"/>
<line x1="40.20" y1="230.03" x2="43.50" y2="230.03" stroke="#262626" stroke-width="0.9"/>
<line x1="40.20" y1="227.42" x2="43.50" y2="227.42" stroke="#262626" stroke-width="0.9"/>
<line x1="40.20" y1="225.39" x2="43.50" y2="225.39" stroke="#262626" stroke-width="0.9"/>
<line x1="40.20" y1="223.74" x2="43.50" y2="223.74" stroke="#262626" stroke-width="0.9"/>
<line x1="40.20" y1="222.34" x2="43.50" y2="222.34" stroke="#262626" stroke-width="0.9"/>
<line x1="40.20" y1="221.13" x2="43.50" y2="221.13" stroke="#262626" stroke-width="0.9"/>
<line x1="40.20" y1="220.06" x2="43.50" y2="220.06" stroke="#262626" stroke-width="0.9"/>
<line x1="39.00" y1="219.10" x2="43.50" y2="219.10" stroke="#262626" stroke-width="1.0"/>
<text x="36.10" y="222.20" text-anchor="end" class="tk">10<tspan class="sup" dx="0.6" dy="-3.4">2</tspan></text>
<line x1="40.20" y1="212.81" x2="43.50" y2="212.81" stroke="#262626" stroke-width="0.9"/>
<line x1="40.20" y1="209.13" x2="43.50" y2="209.13" stroke="#262626" stroke-width="0.9"/>
<line x1="40.20" y1="206.52" x2="43.50" y2="206.52" stroke="#262626" stroke-width="0.9"/>
<line x1="40.20" y1="204.49" x2="43.50" y2="204.49" stroke="#262626" stroke-width="0.9"/>
<line x1="40.20" y1="202.84" x2="43.50" y2="202.84" stroke="#262626" stroke-width="0.9"/>
<line x1="40.20" y1="201.44" x2="43.50" y2="201.44" stroke="#262626" stroke-width="0.9"/>
<line x1="40.20" y1="200.23" x2="43.50" y2="200.23" stroke="#262626" stroke-width="0.9"/>
<line x1="40.20" y1="199.16" x2="43.50" y2="199.16" stroke="#262626" stroke-width="0.9"/>
<line x1="39.00" y1="198.20" x2="43.50" y2="198.20" stroke="#262626" stroke-width="1.0"/>
<text x="36.10" y="201.30" text-anchor="end" class="tk">10<tspan class="sup" dx="0.6" dy="-3.4">3</tspan></text>
<line x1="40.20" y1="191.91" x2="43.50" y2="191.91" stroke="#262626" stroke-width="0.9"/>
<line x1="40.20" y1="188.23" x2="43.50" y2="188.23" stroke="#262626" stroke-width="0.9"/>
<line x1="40.20" y1="185.62" x2="43.50" y2="185.62" stroke="#262626" stroke-width="0.9"/>
<line x1="40.20" y1="183.59" x2="43.50" y2="183.59" stroke="#262626" stroke-width="0.9"/>
<line x1="40.20" y1="181.94" x2="43.50" y2="181.94" stroke="#262626" stroke-width="0.9"/>
<line x1="40.20" y1="180.54" x2="43.50" y2="180.54" stroke="#262626" stroke-width="0.9"/>
<line x1="40.20" y1="179.33" x2="43.50" y2="179.33" stroke="#262626" stroke-width="0.9"/>
<line x1="40.20" y1="178.26" x2="43.50" y2="178.26" stroke="#262626" stroke-width="0.9"/>
<line x1="39.00" y1="177.30" x2="43.50" y2="177.30" stroke="#262626" stroke-width="1.0"/>
<text x="36.10" y="180.40" text-anchor="end" class="tk">10<tspan class="sup" dx="0.6" dy="-3.4">4</tspan></text>
<rect x="43.50" y="172.00" width="228.20" height="126.00" fill="none" stroke="#262626" stroke-width="1.1"/>
<text x="157.60" y="167.80" text-anchor="middle" class="ti">Dense Spiking</text>
<text x="43.80" y="168.00" class="pl">C</text>
<line x1="315.70" y1="298.00" x2="315.70" y2="302.50" stroke="#262626" stroke-width="1.0"/>
<line x1="341.14" y1="298.00" x2="341.14" y2="301.30" stroke="#262626" stroke-width="0.9"/>
<line x1="356.02" y1="298.00" x2="356.02" y2="301.30" stroke="#262626" stroke-width="0.9"/>
<line x1="366.57" y1="298.00" x2="366.57" y2="301.30" stroke="#262626" stroke-width="0.9"/>
<line x1="374.76" y1="298.00" x2="374.76" y2="301.30" stroke="#262626" stroke-width="0.9"/>
<line x1="381.45" y1="298.00" x2="381.45" y2="301.30" stroke="#262626" stroke-width="0.9"/>
<line x1="387.11" y1="298.00" x2="387.11" y2="301.30" stroke="#262626" stroke-width="0.9"/>
<line x1="392.01" y1="298.00" x2="392.01" y2="301.30" stroke="#262626" stroke-width="0.9"/>
<line x1="396.33" y1="298.00" x2="396.33" y2="301.30" stroke="#262626" stroke-width="0.9"/>
<line x1="400.20" y1="298.00" x2="400.20" y2="302.50" stroke="#262626" stroke-width="1.0"/>
<line x1="425.64" y1="298.00" x2="425.64" y2="301.30" stroke="#262626" stroke-width="0.9"/>
<line x1="440.52" y1="298.00" x2="440.52" y2="301.30" stroke="#262626" stroke-width="0.9"/>
<line x1="451.07" y1="298.00" x2="451.07" y2="301.30" stroke="#262626" stroke-width="0.9"/>
<line x1="459.26" y1="298.00" x2="459.26" y2="301.30" stroke="#262626" stroke-width="0.9"/>
<line x1="465.95" y1="298.00" x2="465.95" y2="301.30" stroke="#262626" stroke-width="0.9"/>
<line x1="471.61" y1="298.00" x2="471.61" y2="301.30" stroke="#262626" stroke-width="0.9"/>
<line x1="476.51" y1="298.00" x2="476.51" y2="301.30" stroke="#262626" stroke-width="0.9"/>
<line x1="480.83" y1="298.00" x2="480.83" y2="301.30" stroke="#262626" stroke-width="0.9"/>
<line x1="484.70" y1="298.00" x2="484.70" y2="302.50" stroke="#262626" stroke-width="1.0"/>
<line x1="510.14" y1="298.00" x2="510.14" y2="301.30" stroke="#262626" stroke-width="0.9"/>
<line x1="525.02" y1="298.00" x2="525.02" y2="301.30" stroke="#262626" stroke-width="0.9"/>
<line x1="535.57" y1="298.00" x2="535.57" y2="301.30" stroke="#262626" stroke-width="0.9"/>
<line x1="543.76" y1="298.00" x2="543.76" y2="301.30" stroke="#262626" stroke-width="0.9"/>
<text x="315.70" y="312.00" text-anchor="middle" class="tk">10<tspan class="sup" dx="0.6" dy="-3.4">1</tspan></text>
<text x="400.20" y="312.00" text-anchor="middle" class="tk">10<tspan class="sup" dx="0.6" dy="-3.4">2</tspan></text>
<text x="484.70" y="312.00" text-anchor="middle" class="tk">10<tspan class="sup" dx="0.6" dy="-3.4">3</tspan></text>
<line x1="312.40" y1="293.84" x2="315.70" y2="293.84" stroke="#262626" stroke-width="0.9"/>
<line x1="312.40" y1="290.36" x2="315.70" y2="290.36" stroke="#262626" stroke-width="0.9"/>
<line x1="312.40" y1="287.67" x2="315.70" y2="287.67" stroke="#262626" stroke-width="0.9"/>
<line x1="312.40" y1="285.47" x2="315.70" y2="285.47" stroke="#262626" stroke-width="0.9"/>
<line x1="312.40" y1="283.61" x2="315.70" y2="283.61" stroke="#262626" stroke-width="0.9"/>
<line x1="312.40" y1="281.99" x2="315.70" y2="281.99" stroke="#262626" stroke-width="0.9"/>
<line x1="312.40" y1="280.57" x2="315.70" y2="280.57" stroke="#262626" stroke-width="0.9"/>
<line x1="311.20" y1="279.30" x2="315.70" y2="279.30" stroke="#262626" stroke-width="1.0"/>
<text x="308.30" y="282.40" text-anchor="end" class="tk">10<tspan class="sup" dx="0.6" dy="-3.4">−1</tspan></text>
<line x1="312.40" y1="270.93" x2="315.70" y2="270.93" stroke="#262626" stroke-width="0.9"/>
<line x1="312.40" y1="266.04" x2="315.70" y2="266.04" stroke="#262626" stroke-width="0.9"/>
<line x1="312.40" y1="262.56" x2="315.70" y2="262.56" stroke="#262626" stroke-width="0.9"/>
<line x1="312.40" y1="259.87" x2="315.70" y2="259.87" stroke="#262626" stroke-width="0.9"/>
<line x1="312.40" y1="257.67" x2="315.70" y2="257.67" stroke="#262626" stroke-width="0.9"/>
<line x1="312.40" y1="255.81" x2="315.70" y2="255.81" stroke="#262626" stroke-width="0.9"/>
<line x1="312.40" y1="254.19" x2="315.70" y2="254.19" stroke="#262626" stroke-width="0.9"/>
<line x1="312.40" y1="252.77" x2="315.70" y2="252.77" stroke="#262626" stroke-width="0.9"/>
<line x1="311.20" y1="251.50" x2="315.70" y2="251.50" stroke="#262626" stroke-width="1.0"/>
<text x="308.30" y="254.60" text-anchor="end" class="tk">10<tspan class="sup" dx="0.6" dy="-3.4">0</tspan></text>
<line x1="312.40" y1="243.13" x2="315.70" y2="243.13" stroke="#262626" stroke-width="0.9"/>
<line x1="312.40" y1="238.24" x2="315.70" y2="238.24" stroke="#262626" stroke-width="0.9"/>
<line x1="312.40" y1="234.76" x2="315.70" y2="234.76" stroke="#262626" stroke-width="0.9"/>
<line x1="312.40" y1="232.07" x2="315.70" y2="232.07" stroke="#262626" stroke-width="0.9"/>
<line x1="312.40" y1="229.87" x2="315.70" y2="229.87" stroke="#262626" stroke-width="0.9"/>
<line x1="312.40" y1="228.01" x2="315.70" y2="228.01" stroke="#262626" stroke-width="0.9"/>
<line x1="312.40" y1="226.39" x2="315.70" y2="226.39" stroke="#262626" stroke-width="0.9"/>
<line x1="312.40" y1="224.97" x2="315.70" y2="224.97" stroke="#262626" stroke-width="0.9"/>
<line x1="311.20" y1="223.70" x2="315.70" y2="223.70" stroke="#262626" stroke-width="1.0"/>
<text x="308.30" y="226.80" text-anchor="end" class="tk">10<tspan class="sup" dx="0.6" dy="-3.4">1</tspan></text>
<line x1="312.40" y1="215.33" x2="315.70" y2="215.33" stroke="#262626" stroke-width="0.9"/>
<line x1="312.40" y1="210.44" x2="315.70" y2="210.44" stroke="#262626" stroke-width="0.9"/>
<line x1="312.40" y1="206.96" x2="315.70" y2="206.96" stroke="#262626" stroke-width="0.9"/>
<line x1="312.40" y1="204.27" x2="315.70" y2="204.27" stroke="#262626" stroke-width="0.9"/>
<line x1="312.40" y1="202.07" x2="315.70" y2="202.07" stroke="#262626" stroke-width="0.9"/>
<line x1="312.40" y1="200.21" x2="315.70" y2="200.21" stroke="#262626" stroke-width="0.9"/>
<line x1="312.40" y1="198.59" x2="315.70" y2="198.59" stroke="#262626" stroke-width="0.9"/>
<line x1="312.40" y1="197.17" x2="315.70" y2="197.17" stroke="#262626" stroke-width="0.9"/>
<line x1="311.20" y1="195.90" x2="315.70" y2="195.90" stroke="#262626" stroke-width="1.0"/>
<text x="308.30" y="199.00" text-anchor="end" class="tk">10<tspan class="sup" dx="0.6" dy="-3.4">2</tspan></text>
<line x1="312.40" y1="187.53" x2="315.70" y2="187.53" stroke="#262626" stroke-width="0.9"/>
<line x1="312.40" y1="182.64" x2="315.70" y2="182.64" stroke="#262626" stroke-width="0.9"/>
<line x1="312.40" y1="179.16" x2="315.70" y2="179.16" stroke="#262626" stroke-width="0.9"/>
<line x1="312.40" y1="176.47" x2="315.70" y2="176.47" stroke="#262626" stroke-width="0.9"/>
<line x1="312.40" y1="174.27" x2="315.70" y2="174.27" stroke="#262626" stroke-width="0.9"/>
<line x1="312.40" y1="172.41" x2="315.70" y2="172.41" stroke="#262626" stroke-width="0.9"/>
<rect x="315.70" y="172.00" width="228.70" height="126.00" fill="none" stroke="#262626" stroke-width="1.1"/>
<text x="430.05" y="167.80" text-anchor="middle" class="ti">Sparse Spiking</text>
<text x="316.00" y="168.00" class="pl">D</text>
<rect x="47.7" y="19.7" width="78.3" height="62.5" rx="2" ry="2" fill="#fff" fill-opacity="0.8" stroke="#d6d6d6" stroke-width="0.9"/>
<line x1="50" y1="26.0" x2="68.2" y2="26.0" stroke="#0173b2" stroke-width="1.65" />
<text x="74.4" y="28.6" class="lg">Numpy</text>
<line x1="50" y1="38.3" x2="68.2" y2="38.3" stroke="#de8f05" stroke-width="1.65" stroke-dasharray="4.1 1.9" stroke-dashoffset="-1"/>
<text x="74.4" y="40.9" class="lg">Torch (CPU)</text>
<line x1="50" y1="50.6" x2="68.2" y2="50.6" stroke="#029e73" stroke-width="1.65" stroke-dasharray="1.3 1.7" stroke-dashoffset="-0.8"/>
<text x="74.4" y="53.2" class="lg">Torch (GPU)</text>
<line x1="50" y1="62.9" x2="68.2" y2="62.9" stroke="#d55e00" stroke-width="1.65" />
<text x="74.4" y="65.5" class="lg">Iterative</text>
<line x1="50" y1="75.2" x2="68.2" y2="75.2" stroke="#000000" stroke-width="1.75" stroke-dasharray="4.6 2.2" stroke-dashoffset="-0.5"/>
<text x="74.4" y="77.8" class="lg">Real-Time</text>
<text x="12.0" y="77.8" text-anchor="middle" class="lb" transform="rotate(-90 12.0 77.8)">Step Time (ms)</text>
<text x="12.0" y="235" text-anchor="middle" class="lb" transform="rotate(-90 12.0 235)">Step Time (ms)</text>
<text x="284.9" y="77.8" text-anchor="middle" class="lb" transform="rotate(-90 284.9 77.8)">Step Time (ms)</text>
<text x="284.9" y="235" text-anchor="middle" class="lb" transform="rotate(-90 284.9 235)">Step Time (ms)</text>
<text x="158" y="323.6" text-anchor="middle" class="lb">Number of Neurons</text>
<text x="430" y="323.6" text-anchor="middle" class="lb">Number of Neurons</text>
</svg></body></html>
